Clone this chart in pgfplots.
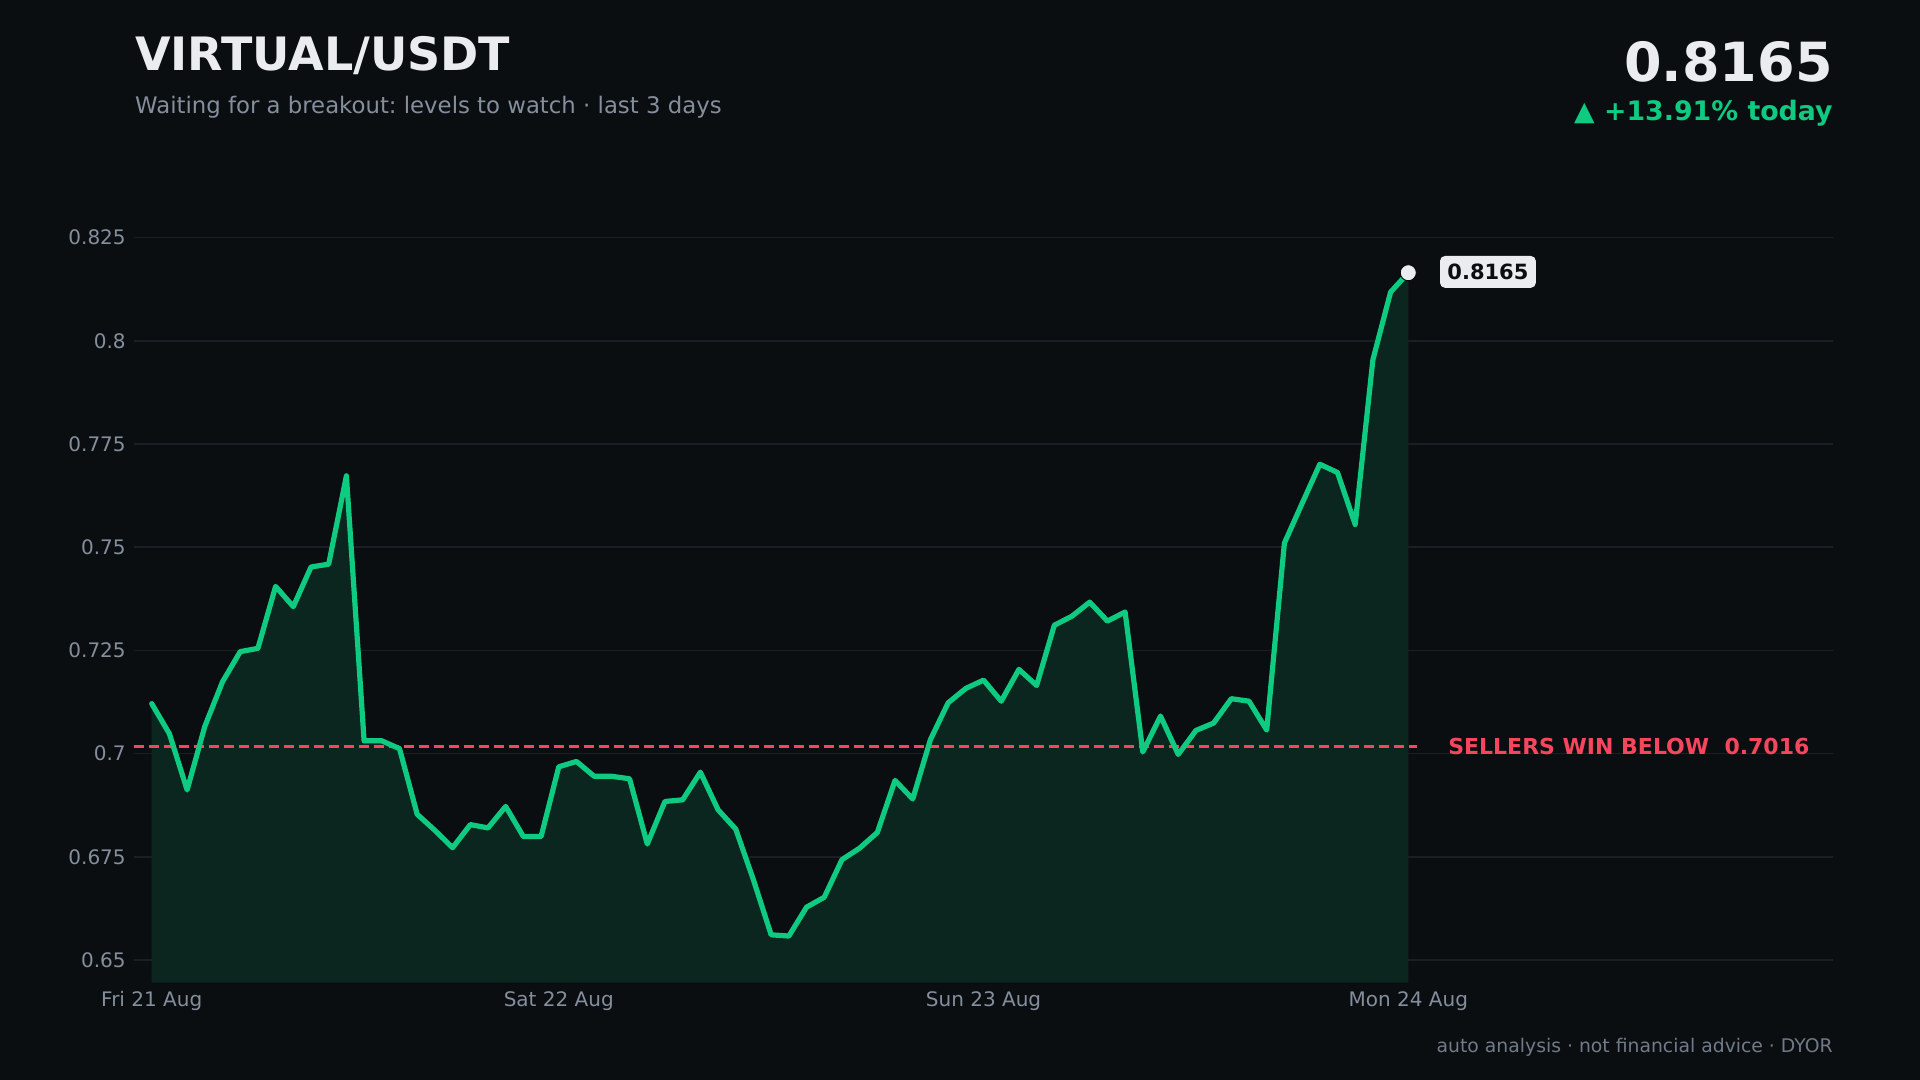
\documentclass[border=0pt]{standalone}
\usepackage{pgfplots}
\pgfplotsset{compat=1.18}
\usepackage{pgfplotstable}
\usepackage{fontspec}
\setmainfont{DejaVu Sans}
\frenchspacing
\definecolor{bg}{RGB}{11,14,17}
\definecolor{upc}{RGB}{14,203,129}
\definecolor{downc}{RGB}{246,70,93}
\definecolor{fillc}{RGB}{11,38,31}
\definecolor{gridc}{RGB}{27,31,36}
\definecolor{tickc}{RGB}{132,142,156}
\definecolor{titlec}{RGB}{234,236,239}
\definecolor{footc}{RGB}{112,122,138}
\pgfplotstableread{
i v
0 0.7121
1 0.7048
2 0.6912
3 0.7066
4 0.7174
5 0.7247
6 0.7255
7 0.7405
8 0.7356
9 0.7452
10 0.7459
11 0.7673
12 0.7031
13 0.7031
14 0.7012
15 0.6853
16 0.6814
17 0.6772
18 0.6828
19 0.6820
20 0.6872
21 0.6799
22 0.6799
23 0.6968
24 0.6981
25 0.6945
26 0.6945
27 0.6939
28 0.6781
29 0.6884
30 0.6888
31 0.6955
32 0.6864
33 0.6817
34 0.6694
35 0.6561
36 0.6558
37 0.6628
38 0.6652
39 0.6743
40 0.6771
41 0.6809
42 0.6935
43 0.6890
44 0.7034
45 0.7123
46 0.7158
47 0.7178
48 0.7127
49 0.7204
50 0.7165
51 0.7311
52 0.7333
53 0.7367
54 0.7321
55 0.7343
56 0.7004
57 0.7091
58 0.6998
59 0.7056
60 0.7074
61 0.7133
62 0.7127
63 0.7057
64 0.7510
65 0.7606
66 0.7701
67 0.7681
68 0.7555
69 0.7954
70 0.8118
71 0.8165
}\pricedata
\begin{document}
\begin{tikzpicture}
\fill[bg] (0,0) rectangle (960pt,540pt);
\begin{axis}[
  at={(66.75pt,48.65pt)}, anchor=south west,
  width=849.75pt, height=382.85pt, scale only axis,
  xmin=-1.03, xmax=95, ymin=0.6445, ymax=0.83,
  axis line style={draw=none},
  major tick length=0pt,
  ytick={0.65,0.675,0.7,0.725,0.75,0.775,0.8,0.825},
  yticklabels={0.65,0.675,0.7,0.725,0.75,0.775,0.8,0.825},
  xtick={0,23,47,71},
  xticklabels={Fri 21 Aug,Sat 22 Aug,Sun 23 Aug,Mon 24 Aug},
  ymajorgrids,
  grid style={gridc, line width=0.8pt},
  tick label style={font=\fontsize{10}{12}\selectfont, text=tickc},
  yticklabel style={anchor=east, inner sep=0pt, xshift=-3.7pt},
  xticklabel style={anchor=base, inner sep=0pt, yshift=-12pt},
  /pgf/number format/assume math mode=true,
]
\addplot[draw=none, fill=fillc] table[x=i,y=v] {\pricedata} \closedcycle;
\addplot[downc, line width=1.5pt, dash pattern=on 5pt off 2.5pt] coordinates {(-1.03,0.7016) (71.5,0.7016)};
\addplot[upc, line width=2.6pt, line join=round, line cap=round] table[x=i,y=v] {\pricedata};
\addplot[only marks, mark=*, mark size=4pt, mark options={fill=titlec, draw=none}] coordinates {(71,0.8165)};
\node[fill=titlec, text=bg, rounded corners=2.5pt, font=\fontsize{10.5}{12}\selectfont\bfseries, inner xsep=3.7pt, inner ysep=4pt] at (axis cs:75.5,0.8167) {0.8165};
\node[anchor=west, inner sep=0pt, text=downc, font=\fontsize{11}{13}\selectfont\bfseries] at (axis cs:73.24,0.7018) {SELLERS WIN BELOW\ \ 0.7016};
\end{axis}
\node[anchor=base west, inner sep=0pt, text=titlec, font=\fontsize{23}{27}\selectfont\bfseries] at (67.4pt,504.5pt) {VIRTUAL/USDT};
\node[anchor=base west, inner sep=0pt, text=tickc, font=\fontsize{11.4}{14}\selectfont] at (67.4pt,483.4pt) {Waiting for a breakout: levels to watch · last 3 days};
\node[anchor=base east, inner sep=0pt, text=titlec, font=\fontsize{27}{32}\selectfont\bfseries] at (916.5pt,499pt) {0.8165};
\node[anchor=base east, inner sep=0pt, text=upc, font=\fontsize{13.4}{16}\selectfont\bfseries] at (916.5pt,479.7pt) {▲ +13.91\% today};
\node[anchor=base east, inner sep=0pt, text=footc, font=\fontsize{9.4}{11}\selectfont] at (916.5pt,13.5pt) {auto analysis · not financial advice · DYOR};
\pgfresetboundingbox
\useasboundingbox (0,0) rectangle (960pt,540pt);
\end{tikzpicture}
\end{document}
